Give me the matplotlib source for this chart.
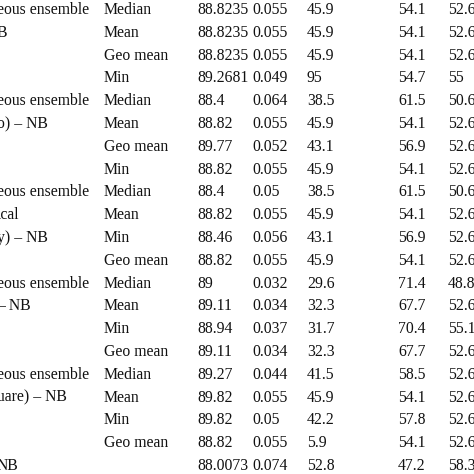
import matplotlib.pyplot as plt

plt.rcParams['font.family'] = ['Liberation Serif', 'DejaVu Serif']

# left column fragments (row index, text, x offset) - the reference is cropped on the left
group_labels = [
    (0, 'eous ensemble', -3), (1, 'B', -3),
    (4, 'eous ensemble', -3), (5, 'o) \u2013 NB', -3),
    (8, 'eous ensemble', -3), (9, 'ical', -3), (10, 'y) \u2013 NB', -3),
    (12, 'eous ensemble', -3), (13, '\u2013 NB', -3),
    (16, 'eous ensemble', -3), (17, 'uare) \u2013 NB', -3),
    (20, 'NB', -3),
]
methods = ['Median', 'Mean', 'Geo mean', 'Min',
           'Median', 'Mean', 'Geo mean', 'Min',
           'Median', 'Mean', 'Min', 'Geo mean',
           'Median', 'Mean', 'Min', 'Geo mean',
           'Median', 'Mean', 'Min', 'Geo mean', '']
acc = ['88.8235', '88.8235', '88.8235', '89.2681',
       '88.4', '88.82', '89.77', '88.82',
       '88.4', '88.82', '88.46', '88.82',
       '89', '89.11', '88.94', '89.11',
       '89.27', '89.82', '89.82', '88.82', '88.0073']
err = ['0.055', '0.055', '0.055', '0.049',
       '0.064', '0.055', '0.052', '0.055',
       '0.05', '0.055', '0.056', '0.055',
       '0.032', '0.034', '0.037', '0.034',
       '0.044', '0.055', '0.05', '0.055', '0.074']
col4 = ['45.9', '45.9', '45.9', '95',
        '38.5', '45.9', '43.1', '45.9',
        '38.5', '45.9', '43.1', '45.9',
        '29.6', '32.3', '31.7', '32.3',
        '41.5', '45.9', '42.2', '5.9', '52.8']
col5 = ['54.1', '54.1', '54.1', '54.7',
        '61.5', '54.1', '56.9', '54.1',
        '61.5', '54.1', '56.9', '54.1',
        '71.4', '67.7', '70.4', '67.7',
        '58.5', '54.1', '57.8', '54.1', '47.2']
col6 = ['52.6', '52.6', '52.6', '55',
        '50.6', '52.6', '52.6', '52.6',
        '50.6', '52.6', '52.6', '52.6',
        '48.8', '52.6', '55.1', '52.6',
        '52.6', '52.6', '52.6', '52.6', '58.3']

fig = plt.figure(figsize=(4.74, 4.74), dpi=100)
ax = fig.add_axes([0, 0, 1, 1])
ax.set_xlim(0, 474)
ax.set_ylim(474, 0)
ax.axis('off')

fs = 11.3
row_y = lambda i: 10 + i * 22.8
for i, txt, x in group_labels:
    ax.text(x, row_y(i), txt, fontsize=fs, va='center', ha='left', color='#111111')
columns = [(104, methods), (197, acc), (252, err), (307, col4), (398, col5), (448, col6)]
for x, vals in columns:
    for i, v in enumerate(vals):
        ax.text(x, row_y(i), v, fontsize=fs, va='center', ha='left', color='#111111')

fig.savefig('out.png', dpi=100)
